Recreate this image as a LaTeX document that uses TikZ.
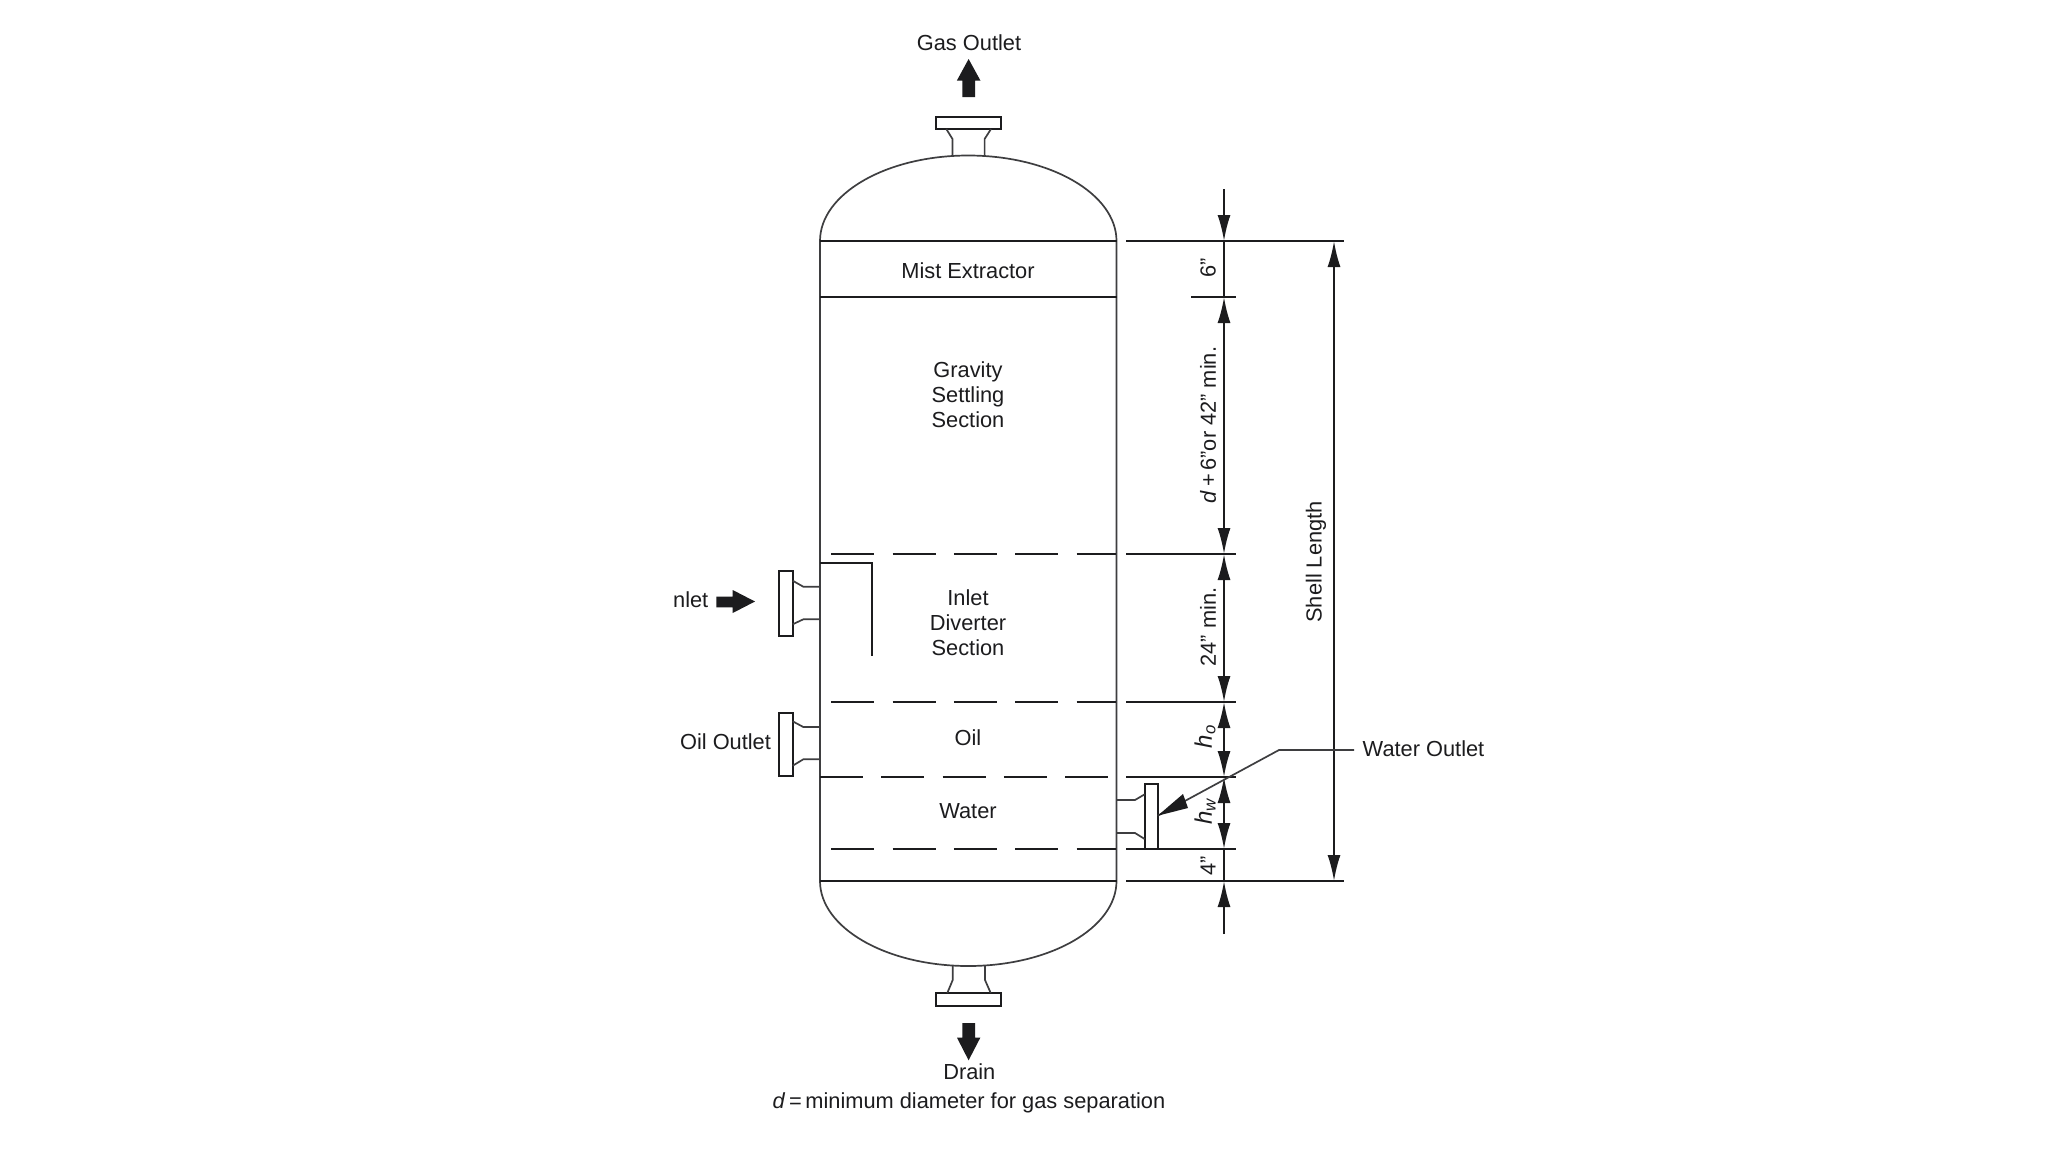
\documentclass[tikz,border=0pt]{standalone}
\usepackage{fontspec}
\setmainfont{Liberation Sans}
\usetikzlibrary{arrows.meta}
\definecolor{ink}{HTML}{1C1C1E}
\tikzset{
  x=1pt,y=-1pt,
  dimtip/.tip={Latex[length=26pt,width=13pt]},
  line/.style={draw=ink,line width=2pt},
  thinline/.style={draw=ink!85,line width=1.7pt},
  shell/.style={draw=ink!85,line width=1.7pt},
  dashline/.style={draw=ink,line width=2pt,dash pattern=on 43pt off 18.3pt},
  dim/.style={draw=ink,line width=2pt,-dimtip},
  twoway/.style={draw=ink,line width=2pt,dimtip-dimtip},
  flow/.style={fill=ink,draw=none},
  lab/.style={font=\fontsize{21.8pt}{23pt}\selectfont,text=ink,inner sep=0pt,anchor=center},
  vlab/.style={lab,rotate=90},
  multi/.style={lab,align=center,font=\fontsize{21.8pt}{25pt}\selectfont},
}
\begin{document}
\begin{tikzpicture}
\useasboundingbox (0,0) rectangle (2048,1152);
\fill[white] (0,0) rectangle (2048,1152);

% vessel
\coordinate (TL) at (820,241); \coordinate (TR) at (1116.5,241);
\coordinate (ML) at (820,297); \coordinate (MR) at (1116.5,297);
\coordinate (BL) at (820,881); \coordinate (BR) at (1116.5,881);
\draw[shell] (BL) -- (TL) arc[start angle=180,end angle=0,x radius=148.25pt,y radius=85.5pt] -- (BR)
             arc[start angle=0,end angle=-180,x radius=148.25pt,y radius=85pt];
\draw[line] (TL) -- (TR);
\draw[line] (ML) -- (MR);
\draw[line] (BL) -- (BR);

% dashed levels
\draw[dashline] (831.3,554) -- (1116,554);
\draw[dashline] (831.3,702) -- (1116,702);
\draw[dashline] (820,777) -- (1116,777);
\draw[dashline] (831.3,849) -- (1116,849);

% diverter
\draw[line] (820,563) -- (871.7,563) -- (871.7,655.7);

% top nozzle
\draw[line,fill=white] (936,117) rectangle (1001,129);
\draw[thinline] (946.3,129) -- (952.5,139) -- (952.5,156.8);
\draw[thinline] (991,129) -- (984.6,139) -- (984.6,156.8);
% bottom nozzle
\draw[line,fill=white] (936,993) rectangle (1001,1006);
\draw[thinline] (947.3,993) -- (952.7,980) -- (952.7,966);
\draw[thinline] (990.7,993) -- (985,980) -- (985,966);
% inlet nozzle
\draw[line,fill=white] (779.3,570.7) rectangle (792.7,635.7);
\draw[thinline] (792.7,580.7) -- (803.3,586.7) -- (820,586.7);
\draw[thinline] (792.7,624.3) -- (803.3,619.3) -- (820,619.3);
% oil nozzle
\draw[line,fill=white] (779.3,712.7) rectangle (792.7,776);
\draw[thinline] (792.7,721.3) -- (803.3,727) -- (820,727);
\draw[thinline] (792.7,765.7) -- (803.3,759.3) -- (820,759.3);
% water nozzle
\draw[line,fill=white] (1144.7,784.3) rectangle (1157.7,849);
\draw[thinline] (1144.7,794.3) -- (1135,800) -- (1116.5,800);
\draw[thinline] (1144.7,839) -- (1135,833) -- (1116.5,833);

% flow arrows
\fill[flow] (962.3,97) -- (975,97) -- (975,80.7) -- (980.5,80.7) -- (968.6,59) -- (956.8,80.7) -- (962.3,80.7) -- cycle;
\fill[flow] (962.3,1023) -- (975,1023) -- (975,1037.7) -- (980.3,1037.7) -- (968.6,1060.3) -- (957,1037.7) -- (962.3,1037.7) -- cycle;
\fill[flow] (716.3,596.7) -- (732.7,596.7) -- (732.7,590) -- (755,601.5) -- (732.7,613) -- (732.7,607.3) -- (716.3,607.3) -- cycle;

% extension lines
\coordinate (E1a) at (1126,241);  \coordinate (E1b) at (1343.5,241);
\coordinate (E2a) at (1191,297);  \coordinate (E2b) at (1235.7,297);
\coordinate (E3a) at (1126,554);  \coordinate (E3b) at (1235.7,554);
\coordinate (E4a) at (1126,702);  \coordinate (E4b) at (1235.7,702);
\coordinate (E5a) at (1126,777);  \coordinate (E5b) at (1235.7,777);
\coordinate (E6a) at (1126,849);  \coordinate (E6b) at (1235.7,849);
\coordinate (E7a) at (1126,881);  \coordinate (E7b) at (1343.5,881);
\draw[line] (E1a) -- (E1b);
\draw[line] (E2a) -- (E2b);
\draw[line] (E3a) -- (E3b);
\draw[line] (E4a) -- (E4b);
\draw[line] (E5a) -- (E5b);
\draw[line] (E6a) -- (E6b);
\draw[line] (E7a) -- (E7b);

% dimension chain
\coordinate (D0) at (1224,189);
\coordinate (D1) at (1224,241);
\coordinate (D2) at (1224,297);
\coordinate (D3) at (1224,554);
\coordinate (D4) at (1224,702);
\coordinate (D5) at (1224,777);
\coordinate (D6) at (1224,849);
\coordinate (D7) at (1224,881);
\coordinate (D8) at (1224,934);
\draw[dim] (D0) -- (D1);
\draw[line] (D1) -- (D2);
\draw[twoway] (D2) -- (D3);
\draw[twoway] (D3) -- (D4);
\draw[twoway] (D4) -- (D5);
\draw[twoway] (D5) -- (D6);
\draw[line] (D6) -- (D7);
\draw[dim] (D8) -- (D7);
\coordinate (S1) at (1334,241);
\coordinate (S2) at (1334,881);
\draw[twoway] (S1) -- (S2);

% labels
\node[lab] (gas) at (969,42.7) {Gas Outlet};
\node[lab] (mist) at (968,270.4) {Mist Extractor};
\node[multi] (grav) at (968,394.5) {Gravity\\Settling\\Section};
\node[multi] (div) at (968,623) {Inlet\\Diverter\\Section};
\node[lab] (oil) at (968,738) {Oil};
\node[lab] (water) at (968,811) {Water};
\node[lab] (inlet) at (690.7,600) {nlet};
\node[lab] (oilout) at (725.5,741.7) {Oil Outlet};
\node[lab] (waterout) at (1423.5,749) {Water Outlet};
\node[lab] (drain) at (969.3,1071.3) {Drain};
\node[lab] (note) at (969,1102.7) {\textit{d}\,=\,minimum diameter for gas separation};
\node[vlab] (six) at (1208,268) {6"};
\node[vlab] (dsix) at (1208,425) {\textit{d}\,+\,6"or 42" min.};
\node[vlab] (twofour) at (1208,627) {24" min.};
\node[vlab,font=\fontsize{24pt}{25pt}\selectfont] (ho) at (1205,736.7) {\textit{h\textsubscript{o}}};
\node[vlab,font=\fontsize{24pt}{25pt}\selectfont] (hw) at (1205,811.7) {\textit{h\textsubscript{w}}};
\node[vlab] (four) at (1208,865.7) {4"};
\node[vlab] (shelllen) at (1316,562) {Shell Length};

% water outlet leader
\coordinate (W1) at (1157.7,815.7);
\coordinate (W2) at (1279,750);
\coordinate (W3) at (1354,750);
\draw[thinline] (W3) -- (W2) -- (W1);
\fill[ink] (W1) -- (1188,808) -- (1183,794) -- cycle;
\end{tikzpicture}
\end{document}
